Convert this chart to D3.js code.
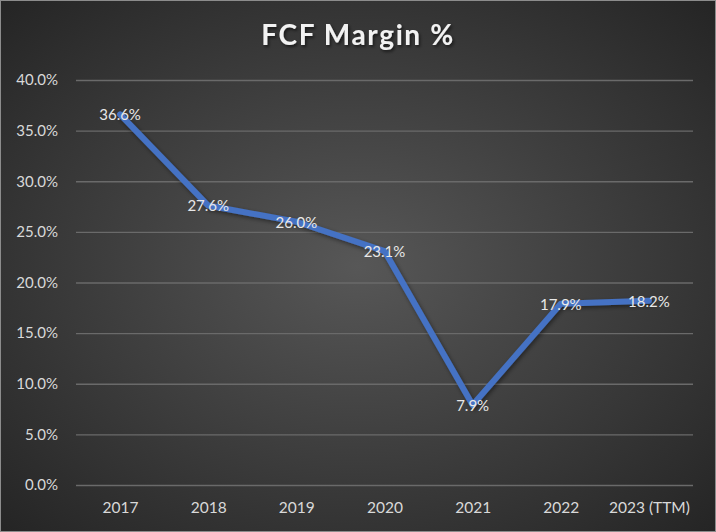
<!DOCTYPE html>
<html>
<head>
<meta charset="utf-8">
<script src="https://cdn.jsdelivr.net/npm/d3@7"></script>
<style>
html,body{margin:0;padding:0;background:#2a2a2a;}
svg{display:block;}
</style>
</head>
<body>
<script>
const categories = ["2017","2018","2019","2020","2021","2022","2023 (TTM)"];
const values = [36.6, 27.6, 26.0, 23.1, 7.9, 17.9, 18.2];
const yTicks = [0,5,10,15,20,25,30,35,40];
const title = "FCF Margin %";

const W = 716, H = 532;
const margin = {top: 80, right: 23, bottom: 47, left: 76};
const FONT = "Lato, 'Open Sans', sans-serif";

const svg = d3.select("body").append("svg").attr("width", W).attr("height", H);
const defs = svg.append("defs");
const rg = defs.append("radialGradient").attr("id","bg")
  .attr("cx","50%").attr("cy","50%").attr("r","70%");
rg.append("stop").attr("offset","0%").attr("stop-color","#575757");
rg.append("stop").attr("offset","100%").attr("stop-color","#252525");

const sh = defs.append("filter").attr("id","shadow").attr("x","-20%").attr("y","-20%").attr("width","140%").attr("height","140%");
sh.append("feDropShadow").attr("dx",1.5).attr("dy",2).attr("stdDeviation",1.5).attr("flood-color","#000").attr("flood-opacity",0.55);

const ls = defs.append("filter").attr("id","lshadow").attr("x","-10%").attr("y","-10%").attr("width","120%").attr("height","120%");
ls.append("feDropShadow").attr("dx",1.5).attr("dy",2).attr("stdDeviation",2).attr("flood-color","#000").attr("flood-opacity",0.45);

svg.append("rect").attr("x",0.5).attr("y",0.5).attr("width",W-1).attr("height",H-1)
  .attr("fill","url(#bg)").attr("stroke","#8c8c8c").attr("stroke-width",1);

const x = d3.scalePoint().domain(categories).range([margin.left, W - margin.right]).padding(0.5);
const y = d3.scaleLinear().domain([0,40]).range([H - margin.bottom, margin.top]);

// title
svg.append("text").attr("x", W/2).attr("y", 45).attr("text-anchor","middle")
  .attr("font-family",FONT).attr("font-weight","bold")
  .attr("font-size",28).attr("letter-spacing",1.6).attr("fill","#f2f2f2")
  .attr("filter","url(#shadow)").text(title);

// grid
const yAxis = d3.axisLeft(y).tickValues(yTicks).tickSize(-(W - margin.left - margin.right))
  .tickFormat(d => d.toFixed(1) + "%").tickPadding(18);
const gy = svg.append("g").attr("transform",`translate(${margin.left},0)`).call(yAxis);
gy.select(".domain").remove();
gy.selectAll(".tick line").attr("stroke","#6a6a6a").attr("stroke-width",1.3);
gy.selectAll(".tick text").attr("fill","#d9d9d9").attr("font-size",15)
  .attr("font-family",FONT);

const xAxis = d3.axisBottom(x).tickSize(0).tickPadding(17);
const gx = svg.append("g").attr("transform",`translate(0,${H - margin.bottom})`).call(xAxis);
gx.select(".domain").remove();
gx.selectAll(".tick text").attr("fill","#d9d9d9").attr("font-size",15.5)
  .attr("font-family",FONT);

const data = categories.map((c,i)=>({c, v: values[i]}));
const line = d3.line().x(d => x(d.c)).y(d => y(d.v));
svg.append("path").datum(data).attr("d", line).attr("fill","none")
  .attr("stroke","#4472c4").attr("stroke-width",6).attr("stroke-linejoin","round")
  .attr("stroke-linecap","round").attr("filter","url(#lshadow)");

svg.append("g").selectAll("text").data(data).join("text")
  .attr("x", d => x(d.c)).attr("y", d => y(d.v) + 2)
  .attr("text-anchor","middle").attr("dominant-baseline","middle")
  .attr("fill","#e8e8e8").attr("font-size",15)
  .attr("font-family",FONT)
  .text(d => d.v.toFixed(1) + "%");
</script>
</body>
</html>
